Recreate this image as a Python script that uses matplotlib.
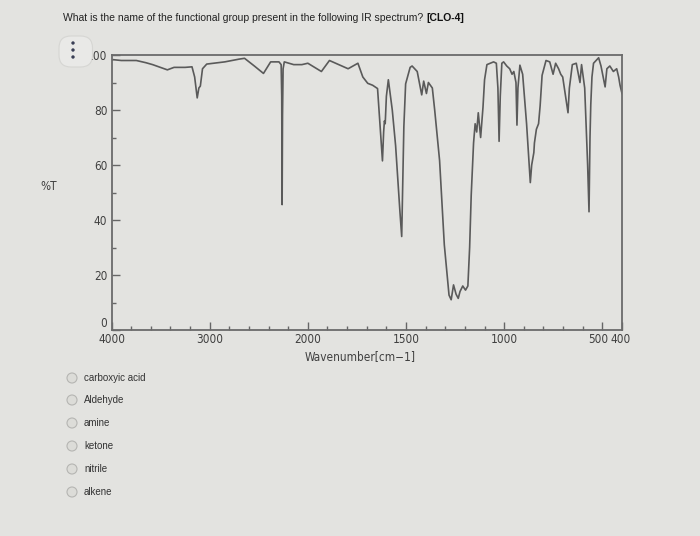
import numpy as np
import matplotlib
matplotlib.use("Agg")
import matplotlib.pyplot as plt
from matplotlib import font_manager
from matplotlib.font_manager import FontProperties
from matplotlib.patches import FancyBboxPatch, Circle
from matplotlib.transforms import ScaledTranslation

# ---------------- data ----------------
wavenumber = [4000, 3982, 3900, 3747, 3650, 3581, 3431, 3363, 3250, 3180, 3153, 3127, 3110, 3095,
              3073, 3030, 2846, 2700, 2645, 2545, 2452, 2379, 2294, 2272, 2266, 2262, 2258,
              2252, 2240, 2144, 2061, 2000, 1931, 1890, 1795, 1745, 1720, 1695, 1670, 1645,
              1620, 1614, 1610, 1606, 1600, 1590, 1570, 1553, 1531, 1522, 1518, 1511, 1502,
              1479, 1469, 1443, 1420, 1410, 1396, 1386, 1366, 1354, 1329, 1305, 1281, 1270,
              1258, 1245, 1234, 1225, 1211, 1197, 1185, 1176, 1168, 1156, 1148, 1140, 1132,
              1120, 1108, 1100, 1088, 1054, 1040, 1032, 1026, 1020, 1012, 1003, 987, 972,
              960, 951, 940, 935, 930, 920, 906, 886, 867, 860, 849, 846, 836, 825, 817,
              807, 787, 768, 751, 738, 723, 712, 702, 675, 668, 653, 633, 614, 606, 590,
              575, 568, 563, 559, 553, 545, 519, 507, 486, 477, 462, 444, 427, 417, 410, 400]
transmittance = [98, 98.3, 98, 98, 97.2, 96.5, 94.6, 95.5, 95.5, 95.7, 92, 84.4, 88, 88.7,
                 95, 96.7, 97.5, 98.5, 98.8, 96, 93.3, 97.5, 97.5, 96.5, 85, 45.6, 78,
                 95, 97.5, 96.5, 96.5, 97, 94, 98, 95, 97, 92, 89.7, 89, 87.8,
                 61.5, 72, 76, 75, 85, 91, 80, 67, 43, 34, 49, 74, 89.5,
                 95.5, 96, 94, 85.5, 90.5, 86, 90, 88, 80, 61.6, 31, 12.7, 11,
                 16.4, 13, 11.5, 14, 16, 14.5, 16, 30, 49, 68, 75, 72, 79,
                 70, 81, 91, 96.5, 97.5, 97, 88, 68.6, 85, 97, 97.5, 96, 95,
                 93, 94, 90, 74.5, 88, 96.3, 93, 75, 53.6, 60, 64.5, 68, 73, 75, 81.5,
                 92.6, 98, 97.5, 93, 97, 95, 93, 92, 79, 88, 96.5, 97, 90, 96.5, 88,
                 60, 43, 70, 82, 92, 97, 99, 96, 88.4, 95, 96, 94, 95, 92, 89, 86]

major_ticks = [4000, 3000, 2000, 1500, 1000, 500, 400]
major_labels = ["4000", "3000", "2000", "1500", "1000", "500", "400"]
minor_ticks = [3800, 3600, 3400, 3200, 2800, 2600, 2400, 2200,
               1900, 1800, 1700, 1600, 1400, 1300, 1200, 1100,
               900, 800, 700, 600]
y_ticks = [0, 20, 40, 60, 80, 100]
y_labels = ["0", "20", "40", "60", "80", "100"]
y_minor = [10, 30, 50, 70, 90]

question = "What is the name of the functional group present in the following IR spectrum? "
question_tag = "[CLO-4]"
options = ["carboxyic acid", "Aldehyde", "amine", "ketone", "nitrile", "alkene"]

# ---------------- fonts ----------------
names = {f.name for f in font_manager.fontManager.ttflist}
sans = "Liberation Sans" if "Liberation Sans" in names else "DejaVu Sans"
plt.rcParams["font.family"] = [sans, "DejaVu Sans"]

cond_file = None
prefs = ["LiberationSansNarrow-Regular", "DejaVuSansCondensed.ttf", "Roboto_Condensed",
         "RobotoCondensed-Regular", "OpenSans_Condensed-Regular", "Condensed"]
files = [f.fname for f in font_manager.fontManager.ttflist]
for p in prefs:
    cands = [fn for fn in files if p.lower() in fn.lower()
             and "bold" not in fn.lower() and "oblique" not in fn.lower()
             and "italic" not in fn.lower()]
    if cands:
        cond_file = sorted(cands, key=len)[0]
        break


def tick_font(size):
    if cond_file:
        return FontProperties(fname=cond_file, size=size)
    return FontProperties(family="DejaVu Sans", size=size * 0.85)


BG = "#e3e3e0"
W, H = 700, 536
fig = plt.figure(figsize=(7, 5.36), dpi=100, facecolor=BG)

# axes placement in pixels
L, R, T_, B = 111.5, 622, 55, 330
ax = fig.add_axes([L / W, 1 - B / H, (R - L) / W, (B - T_) / H])
ax.set_facecolor(BG)


def fwd(x):
    x = np.asarray(x, dtype=float)
    return np.where(x >= 2000, x, 2 * x - 2000)


def inv(y):
    y = np.asarray(y, dtype=float)
    return np.where(y >= 2000, y, (y + 2000) / 2)


ax.set_xscale("function", functions=(fwd, inv))
ax.plot(wavenumber, transmittance, color="#5a5a5a", lw=1.2, solid_joinstyle="round")
ax.set_xlim(4000, 400)
ax.set_ylim(0, 100)

ax.set_xticks(major_ticks)
ax.set_xticklabels(major_labels)
ax.set_xticks(minor_ticks, minor=True)
ax.set_yticks(y_ticks)
ax.set_yticklabels(y_labels)
ax.set_yticks(y_minor, minor=True)
ax.tick_params(axis="both", which="major", direction="in", length=6, width=1,
               color="#666666", labelcolor="#404040", pad=3)
ax.tick_params(axis="both", which="minor", direction="in", length=3, width=1,
               color="#666666")
ax.tick_params(axis="x", which="major", pad=2)
fp = tick_font(8.5)
for lab in ax.get_xticklabels() + ax.get_yticklabels():
    lab.set_fontproperties(fp)
ax.get_yticklabels()[0].set_va("bottom")
xl = ax.get_xticklabels()
xl[5].set_transform(xl[5].get_transform() + ScaledTranslation(-4 / 100, 0, fig.dpi_scale_trans))
xl[6].set_transform(xl[6].get_transform() + ScaledTranslation(-1 / 100, 0, fig.dpi_scale_trans))
for sp in ax.spines.values():
    sp.set_color("#6b6b6b")
    sp.set_linewidth(1.3)

fig.text(40 / W, 1 - 186 / H, "%T", fontproperties=tick_font(8.5),
         color="#404040", va="center", ha="left")
fig.text(360 / W, 1 - 357 / H, "Wavenumber[cm\u22121]", fontproperties=tick_font(8.5),
         color="#404040", va="center", ha="center")

# question text
q = fig.text(63 / W, 1 - 18 / H, question, fontsize=7.5, color="#222222", va="center")
fig.canvas.draw()
bb = q.get_window_extent()
fig.text(bb.x1 / W, 1 - 18 / H, question_tag, fontsize=7.5, color="#111111",
         fontweight="bold", va="center")

# options with radio buttons
ys = [378, 400, 423, 446, 469, 492]
for label, yp in zip(options, ys):
    circ = Circle((72 / 100, (H - yp) / 100), 0.05, transform=fig.dpi_scale_trans,
                  facecolor="#dcdcd8", edgecolor="#b5b5b2", lw=0.8)
    fig.add_artist(circ)
    fig.text(84 / W, 1 - yp / H, label, fontsize=7, color="#333333", va="center")

# menu button overlay (hides the "1" of the 100 label, as in the screenshot)
btn = FancyBboxPatch((0.59, (H - 67) / 100), 0.335, 0.31,
                     boxstyle="round,pad=0,rounding_size=0.12",
                     transform=fig.dpi_scale_trans, facecolor="#e9e9e7",
                     edgecolor="#d6d6d3", lw=0.8, zorder=10)
fig.add_artist(btn)
for yy in (43, 50, 57):
    d = Circle((0.73, (H - yy) / 100), 0.017, transform=fig.dpi_scale_trans,
               facecolor="#3a3f55", edgecolor="none", zorder=11)
    fig.add_artist(d)

fig.savefig("out.png", dpi=100, facecolor=BG)
